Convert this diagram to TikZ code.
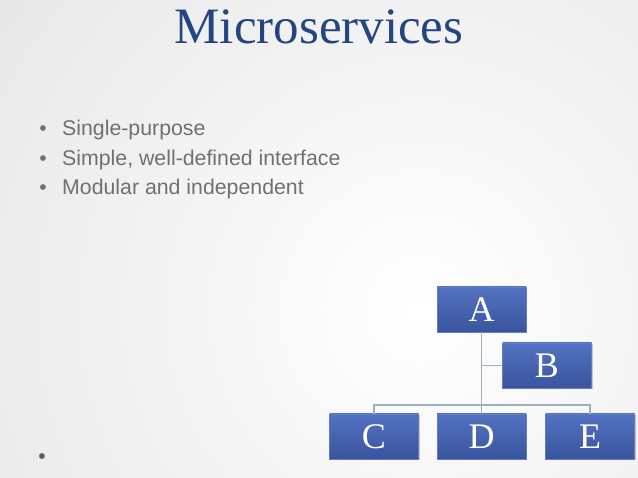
\documentclass[tikz,border=0pt]{standalone}
\usepackage{fontspec}
\setmainfont{Liberation Serif}
\newfontfamily\bulletfont{Liberation Sans}
\usetikzlibrary{shadows}
\definecolor{bggray}{RGB}{206,206,206}
\definecolor{titleblue}{RGB}{36,70,128}
\definecolor{bulletgray}{RGB}{112,112,112}
\definecolor{boxtop}{RGB}{82,114,192}
\definecolor{boxbot}{RGB}{58,84,158}
\definecolor{boxedge}{RGB}{96,126,200}
\definecolor{linkgray}{RGB}{160,174,194}
\tikzset{
  orgbox/.style={rectangle, minimum width=89pt, minimum height=45pt, inner sep=0pt,
    top color=boxtop, bottom color=boxbot, draw=boxedge, line width=0.4pt,
    text=white, font=\fontsize{36}{36}\selectfont,
    drop shadow={shadow xshift=1pt, shadow yshift=-1.5pt, opacity=0.35, fill=black!60}},
  link/.style={draw=linkgray, line width=1.3pt},
  bullettext/.style={anchor=base west, inner sep=0pt, text=bulletgray, font=\bulletfont\fontsize{21.3}{21.3}\selectfont},
  bulletmark/.style={anchor=base, inner sep=0pt, text=bulletgray, font=\bulletfont\fontsize{21}{21}\selectfont}
}
\begin{document}
\begin{tikzpicture}[x=1pt,y=-1pt]
\useasboundingbox (0,0) rectangle (638,478);
\begin{scope}
  \clip (0,0) rectangle (638,478);
  \fill[bggray] (0,0) rectangle (638,478);
  \shade[inner color=white, outer color=bggray] (420,310) ellipse (1080 and 1080);
\end{scope}
% title
\node[anchor=base, inner sep=0pt, text=titleblue, font=\fontsize{51}{51}\selectfont] (title) at (319,44) {Microservices};
% bullets
\node[bulletmark] (b1) at (43,135.7) {•};
\node[bullettext] (t1) at (62,135.7) {Single-purpose};
\node[bulletmark] (b2) at (43,165.4) {•};
\node[bullettext] (t2) at (62,165.4) {Simple, well-defined interface};
\node[bulletmark] (b3) at (43,195) {•};
\node[bullettext] (t3) at (62,195) {Modular and independent};
\node[bulletmark, text=black!65] (b4) at (42,464) {•};
% org chart
\node[orgbox] (A) at (481.5,309.5) {A};
\node[orgbox] (B) at (547,365.5) {B};
\node[orgbox] (C) at (374,436.5) {C};
\node[orgbox] (D) at (481.5,436.5) {D};
\node[orgbox] (E) at (590,436.5) {E};
\coordinate (bar) at (481.5,405);
\path[link] (A.south) -- (D.north);
\path[link] (C.north) |- (bar) -| (E.north);
\path[link] (A.south |- B.west) -- (B.west);
\end{tikzpicture}
\end{document}
